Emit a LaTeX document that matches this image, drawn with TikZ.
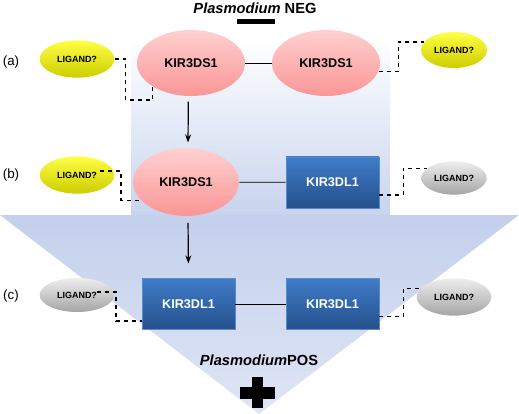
\documentclass[tikz,border=0pt]{standalone}
\usepackage{fontspec}
\setmainfont{Liberation Sans}
\usepackage{tikz}
\usetikzlibrary{shapes.geometric,arrows.meta}
\definecolor{pinkt}{RGB}{255,208,208}
\definecolor{pinkb}{RGB}{250,150,150}
\definecolor{bluet}{RGB}{64,124,200}
\definecolor{blueb}{RGB}{36,80,140}
\definecolor{blued}{RGB}{90,138,206}
\definecolor{yelt}{RGB}{255,255,70}
\definecolor{yelb}{RGB}{205,205,0}
\definecolor{grayt}{RGB}{238,238,238}
\definecolor{grayb}{RGB}{165,165,165}
\definecolor{bgb}{RGB}{200,212,238}
\definecolor{bgt}{RGB}{196,208,236}
\definecolor{bgl}{RGB}{222,229,245}

\begin{document}
\begin{tikzpicture}[x=0.75pt,y=-0.75pt,
  ds/.style={ellipse,minimum width=81pt,minimum height=49.5pt,inner sep=0pt,
    top color=pinkt,bottom color=pinkb,
    font=\fontsize{9.5}{10}\selectfont\bfseries},
  dl/.style={rectangle,minimum width=69.75pt,minimum height=38.5pt,inner sep=0pt,
    top color=bluet,bottom color=blueb,draw=blued,
    text=white,font=\fontsize{9.5}{10}\selectfont\bfseries},
  yl/.style={ellipse,minimum width=56pt,minimum height=28pt,inner sep=0pt,
    top color=yelt,bottom color=yelb,
    font=\fontsize{6.75}{7}\selectfont\bfseries},
  gl/.style={yl,top color=grayt,bottom color=grayb},
  lk/.style={dashed,line width=0.9pt},
  arr/.style={-{Stealth[length=6pt,width=4.5pt]},line width=0.9pt},
  tag/.style={font=\fontsize{10}{11}\selectfont}]
  \useasboundingbox (0,0) rectangle (519,414);
  % background arrow
  \shade[top color=white,bottom color=bgb] (131,38) rectangle (390,215);
  \shade[top color=bgt,bottom color=bgl] (0,215) -- (519,215) -- (259,414) -- cycle;
  \node[font=\fontsize{11}{12}\selectfont\bfseries] (neg) at (255,8) {\textit{Plasmodium} NEG};
  \fill (237,19) rectangle (275,24);
  \node[font=\fontsize{11}{12}\selectfont\bfseries] (pos) at (259,360) {\textit{Plasmodium}POS};
  \fill (252,377) rectangle (263,408);
  \fill (240,387) rectangle (275,399);
  % rows
  \node[tag] (ta) at (11,62) {(a)};
  \node[tag] (tb) at (11,175) {(b)};
  \node[tag] (tc) at (11,296) {(c)};
  \node[ds] (s1) at (191,63) {KIR3DS1};
  \node[ds] (s2) at (326,63) {KIR3DS1};
  \node[yl] (ga) at (77,59) {LIGAND?};
  \node[yl,minimum width=49.5pt,minimum height=27pt] (gb) at (454,50) {LIGAND?};
  \node[ds,minimum width=79.5pt,minimum height=51pt] (s3) at (186,182) {KIR3DS1};
  \node[dl] (l1) at (332.5,182.5) {KIR3DL1};
  \node[yl] (gc) at (77,175) {LIGAND?};
  \node[gl,minimum width=49pt,minimum height=25pt] (gd) at (454,178) {LIGAND?};
  \node[dl] (l2) at (188.5,304) {KIR3DL1};
  \node[dl] (l3) at (332.5,304) {KIR3DL1};
  \node[gl,minimum height=25.5pt] (ge) at (77,295) {LIGAND?};
  \node[gl] (gf) at (454,297) {LIGAND?};
  % links
  \draw[line width=0.6pt] (s1) -- (s2);
  \draw[line width=0.6pt] (s3) -- (l1);
  \draw[line width=0.6pt] (l2) -- (l3);
  \draw[arr,shorten <=4pt,shorten >=4pt] ([xshift=-2pt]s1.south) -- ([xshift=1.5pt]s3.north);
  \draw[arr,shorten <=5pt,shorten >=11pt] ([xshift=1.5pt]s3.south) -- (l2.north);
  \draw[lk] (ga.east) -- ++(11,0) -- ++(0,41) -| (s1.south west);
  \draw[lk] (s2.-9) -- ++(20,0) |- (gb.165);
  \draw[lk] ([shift={(23,-4)}]gc.center) -- ++(21,0) |- (s3.202);
  \draw[lk] (l1.-15) -- ++(24,0) |- (gd.160);
  \draw[lk] ([shift={(20,-3)}]ge.center) -- ++(19,0) |- (l2.200);
  \draw[lk] (l3.-15) -- ++(24,0) |- (gf.165);
\end{tikzpicture}
\end{document}
